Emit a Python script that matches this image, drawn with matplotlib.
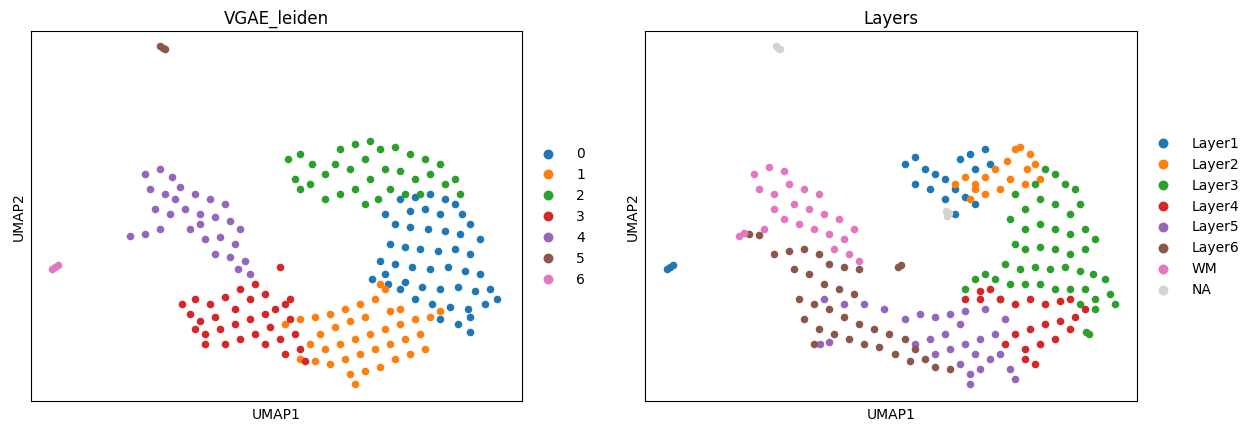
import numpy as np
import matplotlib.pyplot as plt

# hand-read UMAP positions (pixel-like units, y grows downwards)
c0 = [(400,200),(415,198),(430,195),(445,200),(455,205),(462,215),(410,212),(425,210),(440,215),(395,225),(410,228),(428,230),(445,232),(460,235),(470,225),(390,245),(405,248),(420,250),(438,252),(455,250),(470,255),(380,262),(395,265),(412,268),(430,270),(448,268),(465,272),(480,275),(372,280),(388,285),(405,283),(422,288),(440,290),(458,288),(475,292),(490,290),(497,300),(485,305),(415,300),(432,305),(450,308),(468,310),(440,320),(458,325),(470,318),(400,290),(385,275),(470,333),(385,215),(480,240)]
c1 = [(285,325),(300,320),(315,318),(330,315),(345,310),(360,305),(375,300),(385,290),(380,285),(365,318),(350,322),(335,328),(320,335),(310,345),(325,350),(340,345),(355,340),(370,335),(385,330),(400,325),(415,320),(430,318),(440,312),(420,335),(405,340),(390,345),(375,350),(360,355),(345,360),(330,365),(315,362),(350,375),(365,372),(380,368),(395,360),(410,355),(425,350),(300,360),(355,385),(400,310),(390,312)]
c2 = [(288,160),(300,155),(312,165),(295,180),(310,185),(325,175),(340,150),(355,145),(370,142),(335,165),(350,170),(365,160),(380,150),(395,148),(410,155),(425,160),(440,165),(430,175),(415,180),(400,172),(385,170),(370,180),(355,190),(340,195),(325,200),(390,190),(405,195),(455,180),(460,195),(445,185),(420,195),(378,200),(300,190),(365,205)]
c3 = [(182,305),(195,300),(210,305),(225,298),(240,290),(255,285),(265,295),(250,300),(235,310),(215,318),(200,322),(190,315),(205,335),(220,330),(235,325),(250,320),(265,315),(275,310),(285,305),(290,320),(270,328),(255,335),(240,340),(225,345),(205,345),(265,345),(280,340),(295,335),(300,350),(285,355),(305,362),(280,268),(290,300),(195,330)]
c4 = [(145,175),(160,170),(172,178),(150,190),(165,195),(180,188),(195,195),(210,200),(225,205),(185,210),(200,215),(215,218),(230,222),(170,215),(160,230),(145,235),(130,237),(190,230),(205,240),(220,238),(235,245),(215,255),(230,258),(245,262),(250,275),(238,270),(200,225),(175,200),(155,210),(240,230)]
c5 = [(160,47),(163,49),(165,50)]
c6 = [(52,270),(55,268),(58,266)]
clusters = [c0, c1, c2, c3, c4, c5, c6]
cluster_names = ['0', '1', '2', '3', '4', '5', '6']

layer1 = [(290,165),(300,158),(310,170),(320,175),(330,180),(340,190),(350,198),(345,160),(355,155),(370,150),(375,165),(360,170),(330,200),(300,185),(315,190),(360,205),(56,268),(53,270),(59,266),(340,215)]
layer2 = [(340,185),(350,178),(360,185),(370,178),(380,170),(392,162),(400,150),(405,148),(415,155),(412,170),(420,165),(425,180),(395,180),(385,190),(370,195),(355,200),(360,190),(410,185)]
layer3 = [(400,195),(420,185),(430,170),(440,175),(450,185),(460,190),(465,205),(455,215),(440,205),(425,200),(410,210),(395,220),(410,230),(425,225),(440,230),(455,235),(470,230),(480,240),(470,250),(455,255),(440,250),(425,248),(410,250),(400,245),(390,265),(405,270),(420,268),(435,270),(450,268),(465,272),(478,275),(490,280),(495,295),(480,300),(470,290),(455,290),(440,290),(425,285),(410,285),(395,285),(380,280),(370,275),(385,300),(465,305),(480,310),(500,305),(471,333),(474,335),(350,290),(360,280)]
layer4 = [(350,300),(365,292),(375,290),(385,300),(400,305),(415,300),(430,305),(445,302),(455,300),(460,318),(445,322),(430,325),(415,330),(400,335),(390,345),(410,350),(425,345),(440,340),(420,365),(410,360),(365,300),(455,330),(470,310)]
layer5 = [(210,300),(230,305),(250,305),(270,310),(290,320),(305,315),(320,318),(335,315),(350,312),(370,310),(345,325),(330,335),(315,340),(300,345),(320,355),(335,350),(350,345),(365,340),(380,335),(360,355),(345,365),(355,375),(365,370),(375,360),(385,355),(395,370),(355,385),(400,380),(206,345),(215,343),(390,320)]
layer6 = [(160,255),(175,252),(190,250),(205,255),(215,265),(230,268),(245,270),(180,270),(195,275),(210,285),(225,290),(240,295),(185,300),(200,305),(215,310),(230,318),(245,325),(260,330),(275,335),(290,340),(300,350),(310,360),(320,368),(335,370),(190,320),(205,330),(220,335),(235,340),(250,345),(265,348),(280,355),(295,362),(135,235),(145,236),(283,268),(286,266),(200,345)]
wm = [(125,237),(140,175),(155,168),(170,172),(145,190),(160,195),(175,185),(190,190),(205,195),(180,205),(195,210),(210,215),(225,220),(170,220),(160,210),(150,230),(185,225),(200,230),(215,235),(230,240),(220,250),(235,255),(245,262),(240,230),(130,234)]
na = [(162,47),(164,49),(166,50),(331,212),(332,217),(334,214)]
layers = [layer1, layer2, layer3, layer4, layer5, layer6, wm, na]
layer_names = ['Layer1', 'Layer2', 'Layer3', 'Layer4', 'Layer5', 'Layer6', 'WM', 'NA']

tab = plt.get_cmap('tab10').colors
layer_colors = list(tab[:7]) + ['lightgray']

fig = plt.figure(figsize=(12.52, 4.31), dpi=100)
ax1 = fig.add_axes([31/1252, 29/431, 491/1252, 370/431])
ax2 = fig.add_axes([645/1252, 29/431, 492/1252, 370/431])

def panel(ax, groups, names, colors, title):
    for pts, name, col in zip(groups, names, colors):
        p = np.array(pts)
        ax.scatter(p[:, 0], p[:, 1], s=30, color=col, label=name, linewidths=0)
    ax.set_xlim(31, 522)
    ax.set_ylim(402, 32)
    ax.set_xticks([])
    ax.set_yticks([])
    ax.set_xlabel('UMAP1')
    ax.set_ylabel('UMAP2')
    ax.set_title(title)
    ax.legend(loc='center left', bbox_to_anchor=(1, 0.5), frameon=False,
              markerscale=1.3, handletextpad=1.0)

panel(ax1, clusters, cluster_names, tab[:7], 'VGAE_leiden')
panel(ax2, layers, layer_names, layer_colors, 'Layers')

fig.savefig('out.png', dpi=100)
